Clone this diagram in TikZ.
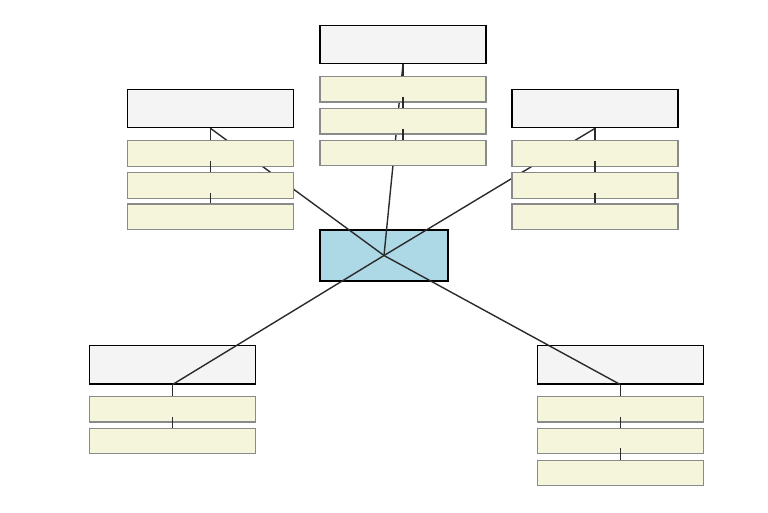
\documentclass[tikz,border=0pt]{standalone}
\begin{document}
\begin{tikzpicture}[x=1pt,y=-1pt,
  hdr/.style={draw=black,line width=1.2pt,fill=hdrfill,rectangle,inner sep=0pt,minimum width=166pt,minimum height=38.5pt},
  kid/.style={draw=kidline,line width=1.2pt,fill=kidfill,rectangle,inner sep=0pt,minimum width=166pt,minimum height=25.5pt},
  hub/.style={draw=black,line width=1.2pt,fill=hubfill,rectangle,inner sep=0pt,minimum width=128pt,minimum height=51pt},
  link/.style={draw=linkcol,line width=1.4pt},
  tick/.style={draw=linkcol,line width=1.3pt}]
\definecolor{hdrfill}{HTML}{F4F4F4}
\definecolor{kidfill}{HTML}{F5F5DC}
\definecolor{kidline}{HTML}{8A8A8A}
\definecolor{hubfill}{HTML}{ADD8E6}
\definecolor{linkcol}{HTML}{2B2B2B}
\useasboundingbox (0,0) rectangle (768,512);
% headers
\node[hdr] (T)  at (403,44.5) {};
\node[hdr] (TL) at (210.5,108.5) {};
\node[hdr] (TR) at (595,108.5) {};
\node[hdr] (BL) at (172.5,364.7) {};
\node[hdr] (BR) at (620.3,364.7) {};
% hub
\node[hub] (C) at (384,255.5) {};
% connectors
\draw[link] (C.center) -- (T.south);
\draw[link] (C.center) -- (TL.south);
\draw[link] (C.center) -- (TR.south);
\draw[link] (C.center) -- (BL.south);
\draw[link] (C.center) -- (BR.south);
% header-to-first-child ticks
\draw[tick] (T.south) -- ++(0,13);
\draw[tick] (TL.south) -- ++(0,13);
\draw[tick] (TR.south) -- ++(0,13);
\draw[tick] (BL.south) -- ++(0,13);
\draw[tick] (BR.south) -- ++(0,13);
% children
\node[kid] (T1) at (403,89.3) {};
\node[kid] (T2) at (403,121.2) {};
\node[kid] (T3) at (403,153) {};
\node[kid] (L1) at (210.5,153.5) {};
\node[kid] (L2) at (210.5,185.5) {};
\node[kid] (L3) at (210.5,216.7) {};
\node[kid] (R1) at (595,153.5) {};
\node[kid] (R2) at (595,185.5) {};
\node[kid] (R3) at (595,216.7) {};
\node[kid] (B1) at (172.5,409.3) {};
\node[kid] (B2) at (172.5,441) {};
\node[kid] (D1) at (620.3,409.3) {};
\node[kid] (D2) at (620.3,441) {};
\node[kid] (D3) at (620.3,473) {};
% child-to-child ticks
\draw[tick] ([yshift=6pt]T1.south) -- (T2.north);
\draw[tick] ([yshift=6pt]T2.south) -- (T3.north);
\draw[tick] ([yshift=6pt]L1.south) -- (L2.north);
\draw[tick] ([yshift=6pt]L2.south) -- (L3.north);
\draw[tick] ([yshift=6pt]R1.south) -- (R2.north);
\draw[tick] ([yshift=6pt]R2.south) -- (R3.north);
\draw[tick] ([yshift=6pt]B1.south) -- (B2.north);
\draw[tick] ([yshift=6pt]D1.south) -- (D2.north);
\draw[tick] ([yshift=6pt]D2.south) -- (D3.north);
\end{tikzpicture}
\end{document}
